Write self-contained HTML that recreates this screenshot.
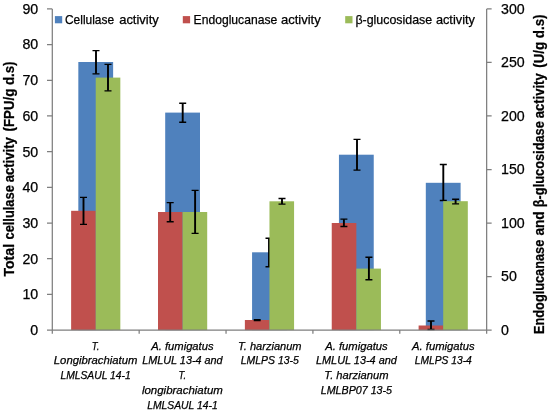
<!DOCTYPE html>
<html><head><meta charset="utf-8"><title>Enzyme activity chart</title>
<style>html,body{margin:0;padding:0;background:#fff;}svg{display:block;}text{font-family:"Liberation Sans",sans-serif;fill:#000;stroke:#000;stroke-width:0.25px;}</style></head><body>
<svg width="550" height="413" viewBox="0 0 550 413">
<rect width="550" height="413" fill="#fff"/>
<rect x="78.33" y="62.00" width="34.80" height="268.10" fill="#4F81BD"/>
<rect x="165.20" y="112.60" width="34.80" height="217.50" fill="#4F81BD"/>
<rect x="252.07" y="252.30" width="34.80" height="77.80" fill="#4F81BD"/>
<rect x="338.94" y="154.70" width="34.80" height="175.40" fill="#4F81BD"/>
<rect x="425.81" y="182.80" width="34.80" height="147.30" fill="#4F81BD"/>
<path d="M92.50 50.60H99.50M92.50 73.80H99.50" stroke="#000" stroke-width="1.35" fill="none"/><path d="M96.00 50.60V73.80" stroke="#000" stroke-width="1.9" fill="none"/>
<path d="M179.20 103.20H186.20M179.20 122.20H186.20" stroke="#000" stroke-width="1.35" fill="none"/><path d="M182.70 103.20V122.20" stroke="#000" stroke-width="1.9" fill="none"/>
<path d="M265.50 238.20H272.50M265.50 266.70H272.50" stroke="#000" stroke-width="1.35" fill="none"/><path d="M269.00 238.20V266.70" stroke="#000" stroke-width="1.9" fill="none"/>
<path d="M353.50 139.30H360.50M353.50 170.10H360.50" stroke="#000" stroke-width="1.35" fill="none"/><path d="M357.00 139.30V170.10" stroke="#000" stroke-width="1.9" fill="none"/>
<path d="M439.80 164.50H446.80M439.80 200.50H446.80" stroke="#000" stroke-width="1.35" fill="none"/><path d="M443.30 164.50V200.50" stroke="#000" stroke-width="1.9" fill="none"/>
<rect x="71.13" y="210.80" width="24.60" height="119.30" fill="#C0504D"/>
<rect x="95.73" y="77.60" width="24.60" height="252.50" fill="#9BBB59"/>
<rect x="158.00" y="212.00" width="24.60" height="118.10" fill="#C0504D"/>
<rect x="182.60" y="212.00" width="24.60" height="118.10" fill="#9BBB59"/>
<rect x="244.87" y="320.00" width="24.60" height="10.10" fill="#C0504D"/>
<rect x="269.47" y="201.30" width="24.60" height="128.80" fill="#9BBB59"/>
<rect x="331.74" y="223.00" width="24.60" height="107.10" fill="#C0504D"/>
<rect x="356.34" y="268.60" width="24.60" height="61.50" fill="#9BBB59"/>
<rect x="418.61" y="325.50" width="24.60" height="4.60" fill="#C0504D"/>
<rect x="443.21" y="201.20" width="24.60" height="128.90" fill="#9BBB59"/>
<path d="M80.00 197.30H87.00M80.00 224.30H87.00" stroke="#000" stroke-width="1.35" fill="none"/><path d="M83.50 197.30V224.30" stroke="#000" stroke-width="1.9" fill="none"/>
<path d="M104.50 64.40H111.50M104.50 90.80H111.50" stroke="#000" stroke-width="1.35" fill="none"/><path d="M108.00 64.40V90.80" stroke="#000" stroke-width="1.9" fill="none"/>
<path d="M166.70 202.60H173.70M166.70 221.70H173.70" stroke="#000" stroke-width="1.35" fill="none"/><path d="M170.20 202.60V221.70" stroke="#000" stroke-width="1.9" fill="none"/>
<path d="M191.60 190.40H198.60M191.60 233.40H198.60" stroke="#000" stroke-width="1.35" fill="none"/><path d="M195.10 190.40V233.40" stroke="#000" stroke-width="1.9" fill="none"/>
<path d="M278.50 198.50H285.50M278.50 204.10H285.50" stroke="#000" stroke-width="1.35" fill="none"/><path d="M282.00 198.50V204.10" stroke="#000" stroke-width="1.9" fill="none"/>
<path d="M340.40 219.10H347.40M340.40 226.50H347.40" stroke="#000" stroke-width="1.35" fill="none"/><path d="M343.90 219.10V226.50" stroke="#000" stroke-width="1.9" fill="none"/>
<path d="M253.70 319.60H260.70M253.70 320.60H260.70" stroke="#000" stroke-width="1.35" fill="none"/><path d="M257.20 319.60V320.60" stroke="#000" stroke-width="1.9" fill="none"/>
<path d="M365.40 257.20H372.40M365.40 279.70H372.40" stroke="#000" stroke-width="1.35" fill="none"/><path d="M368.90 257.20V279.70" stroke="#000" stroke-width="1.9" fill="none"/>
<path d="M427.50 321.00H434.50M427.50 329.50H434.50" stroke="#000" stroke-width="1.35" fill="none"/><path d="M431.00 321.00V329.50" stroke="#000" stroke-width="1.9" fill="none"/>
<path d="M452.10 199.20H459.10M452.10 203.80H459.10" stroke="#000" stroke-width="1.35" fill="none"/><path d="M455.60 199.20V203.80" stroke="#000" stroke-width="1.9" fill="none"/>
<path d="M52.3 8.9V330.1M486.65 8.9V330.1M52.3 330.1H486.65" stroke="#7f7f7f" stroke-width="1.25" fill="none"/>
<path d="M47.0 330.10H52.3M47.0 294.41H52.3M47.0 258.72H52.3M47.0 223.03H52.3M47.0 187.34H52.3M47.0 151.66H52.3M47.0 115.97H52.3M47.0 80.28H52.3M47.0 44.59H52.3M47.0 8.90H52.3M486.65 330.10H491.65M486.65 276.57H491.65M486.65 223.03H491.65M486.65 169.50H491.65M486.65 115.97H491.65M486.65 62.43H491.65M486.65 8.90H491.65M52.30 330.1V333.8M139.17 330.1V333.8M226.04 330.1V333.8M312.91 330.1V333.8M399.78 330.1V333.8M486.65 330.1V333.8" stroke="#7f7f7f" stroke-width="1.25" fill="none"/>
<text x="38.2" y="334.95" font-size="14.2" text-anchor="end">0</text>
<text x="38.2" y="299.26" font-size="14.2" text-anchor="end">10</text>
<text x="38.2" y="263.57" font-size="14.2" text-anchor="end">20</text>
<text x="38.2" y="227.88" font-size="14.2" text-anchor="end">30</text>
<text x="38.2" y="192.19" font-size="14.2" text-anchor="end">40</text>
<text x="38.2" y="156.51" font-size="14.2" text-anchor="end">50</text>
<text x="38.2" y="120.82" font-size="14.2" text-anchor="end">60</text>
<text x="38.2" y="85.13" font-size="14.2" text-anchor="end">70</text>
<text x="38.2" y="49.44" font-size="14.2" text-anchor="end">80</text>
<text x="38.2" y="13.75" font-size="14.2" text-anchor="end">90</text>
<text x="501.0" y="334.95" font-size="14.2">0</text>
<text x="501.0" y="281.42" font-size="14.2">50</text>
<text x="501.0" y="227.88" font-size="14.2">100</text>
<text x="501.0" y="174.35" font-size="14.2">150</text>
<text x="501.0" y="120.82" font-size="14.2">200</text>
<text x="501.0" y="67.28" font-size="14.2">250</text>
<text x="501.0" y="13.75" font-size="14.2">300</text>
<rect x="54.9" y="16.1" width="7.3" height="7.2" fill="#4F81BD"/>
<text x="65.00" y="23.7" font-size="12.8" textLength="49.10" lengthAdjust="spacingAndGlyphs">Cellulase</text>
<text x="119.20" y="23.7" font-size="12.8" textLength="39.60" lengthAdjust="spacingAndGlyphs">activity</text>
<rect x="182.8" y="16.1" width="7.3" height="7.2" fill="#C0504D"/>
<text x="193.60" y="23.7" font-size="12.8" textLength="83.60" lengthAdjust="spacingAndGlyphs">Endoglucanase</text>
<text x="280.90" y="23.7" font-size="12.8" textLength="39.80" lengthAdjust="spacingAndGlyphs">activity</text>
<rect x="345.2" y="16.1" width="7.3" height="7.2" fill="#9BBB59"/>
<text x="355.40" y="23.7" font-size="12.8" textLength="76.80" lengthAdjust="spacingAndGlyphs">β-glucosidase</text>
<text x="435.90" y="23.7" font-size="12.8" textLength="39.00" lengthAdjust="spacingAndGlyphs">activity</text>
<text transform="translate(13.8 276.6) rotate(-90)" font-size="14" font-weight="bold" textLength="32.7" lengthAdjust="spacingAndGlyphs">Total</text>
<text transform="translate(13.8 239.5) rotate(-90)" font-size="14" font-weight="bold" textLength="54.3" lengthAdjust="spacingAndGlyphs">cellulase</text>
<text transform="translate(13.8 182.3) rotate(-90)" font-size="14" font-weight="bold" textLength="45.1" lengthAdjust="spacingAndGlyphs">activity</text>
<text transform="translate(13.8 131.4) rotate(-90)" font-size="14" font-weight="bold" textLength="69.9" lengthAdjust="spacingAndGlyphs">(FPU/g d.s)</text>
<text transform="translate(543.7 334.0) rotate(-90)" font-size="14" font-weight="bold" textLength="94.3" lengthAdjust="spacingAndGlyphs">Endoglucanase</text>
<text transform="translate(543.7 235.6) rotate(-90)" font-size="14" font-weight="bold" textLength="24.3" lengthAdjust="spacingAndGlyphs">and</text>
<text transform="translate(543.7 207.2) rotate(-90)" font-size="14" font-weight="bold" textLength="86.0" lengthAdjust="spacingAndGlyphs">β-glucosidase</text>
<text transform="translate(543.7 118.3) rotate(-90)" font-size="14" font-weight="bold" textLength="45.0" lengthAdjust="spacingAndGlyphs">activity</text>
<text transform="translate(543.7 67.7) rotate(-90)" font-size="14" font-weight="bold" textLength="53.2" lengthAdjust="spacingAndGlyphs">(U/g d.s)</text>
<text x="91.80" y="349.50" font-size="11" font-style="italic" textLength="7.6" lengthAdjust="spacingAndGlyphs">T.</text>
<text x="53.85" y="364.35" font-size="11" font-style="italic" textLength="83.5" lengthAdjust="spacingAndGlyphs">Longibrachiatum</text>
<text x="60.40" y="379.20" font-size="11" font-style="italic" textLength="70.4" lengthAdjust="spacingAndGlyphs">LMLSAUL 14-1</text>
<text x="151.25" y="349.50" font-size="11" font-style="italic" textLength="62.3" lengthAdjust="spacingAndGlyphs">A. fumigatus</text>
<text x="142.20" y="364.35" font-size="11" font-style="italic" textLength="80.4" lengthAdjust="spacingAndGlyphs">LMLUL 13-4 and</text>
<text x="178.60" y="379.20" font-size="11" font-style="italic" textLength="7.6" lengthAdjust="spacingAndGlyphs">T.</text>
<text x="141.95" y="394.05" font-size="11" font-style="italic" textLength="80.9" lengthAdjust="spacingAndGlyphs">longibrachiatum</text>
<text x="147.15" y="408.90" font-size="11" font-style="italic" textLength="70.5" lengthAdjust="spacingAndGlyphs">LMLSAUL 14-1</text>
<text x="238.10" y="349.50" font-size="11" font-style="italic" textLength="63.4" lengthAdjust="spacingAndGlyphs">T. harzianum</text>
<text x="240.80" y="364.35" font-size="11" font-style="italic" textLength="58.0" lengthAdjust="spacingAndGlyphs">LMLPS 13-5</text>
<text x="325.15" y="349.50" font-size="11" font-style="italic" textLength="62.5" lengthAdjust="spacingAndGlyphs">A. fumigatus</text>
<text x="316.00" y="364.35" font-size="11" font-style="italic" textLength="80.8" lengthAdjust="spacingAndGlyphs">LMLUL 13-4 and</text>
<text x="324.35" y="379.20" font-size="11" font-style="italic" textLength="64.1" lengthAdjust="spacingAndGlyphs">T. harzianum</text>
<text x="320.75" y="394.05" font-size="11" font-style="italic" textLength="71.3" lengthAdjust="spacingAndGlyphs">LMLBP07 13-5</text>
<text x="412.05" y="349.50" font-size="11" font-style="italic" textLength="62.5" lengthAdjust="spacingAndGlyphs">A. fumigatus</text>
<text x="414.85" y="364.35" font-size="11" font-style="italic" textLength="56.9" lengthAdjust="spacingAndGlyphs">LMLPS 13-4</text>
</svg></body></html>
